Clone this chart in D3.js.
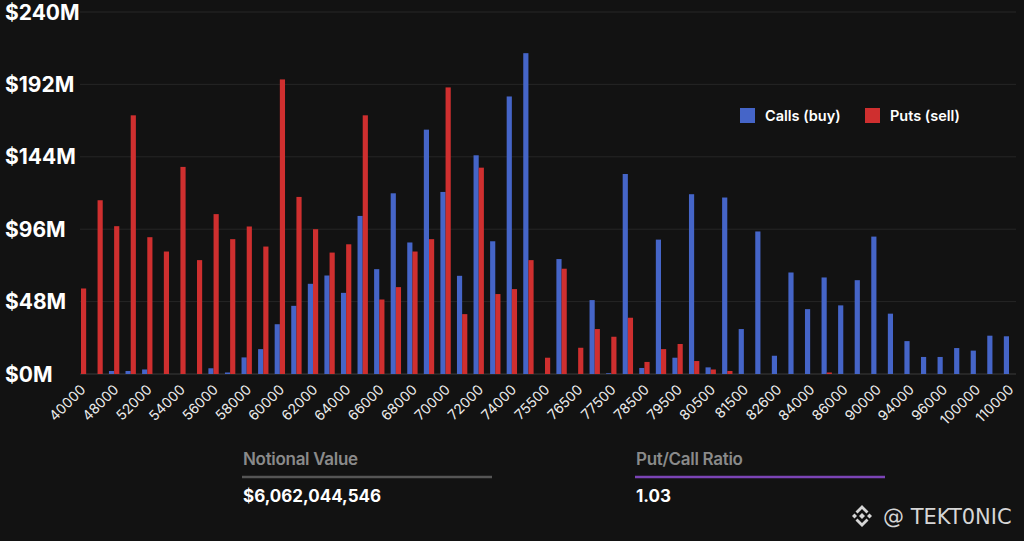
<!DOCTYPE html>
<html>
<head>
<meta charset="utf-8">
<script src="https://cdn.jsdelivr.net/npm/d3@7"></script>
<style>
  html, body { margin: 0; padding: 0; background: #121212; }
  svg { display: block; font-family: Inter, "Open Sans", sans-serif; }
</style>
</head>
<body>
<svg id="chart" width="1024" height="541"></svg>
<script>
// strike prices (every other one is labelled on the axis)
const strikes = [
  "40000", "44000", "48000", "50000", "52000", "53000", "54000", "55000", "56000", "57000",
  "58000", "59000", "60000", "61000", "62000", "63000", "64000", "65000", "66000", "67000",
  "68000", "69000", "70000", "71000", "72000", "73000", "74000", "75000", "75500", "76000",
  "76500", "77000", "77500", "78000", "78500", "79000", "79500", "80000", "80500", "81000",
  "81500", "82000", "82600", "83000", "84000", "85000", "86000", "88000", "90000", "92000",
  "94000", "95000", "96000", "98000", "100000", "105000", "110000"
];

// notional, $M
const calls = [
  0, 0, 2, 2, 3, 0, 0, 0, 3.8, 1,
  11, 16.5, 33, 45.2, 59.8, 65.3, 53.8, 104.8, 69.5, 119.8,
  87.2, 162, 120.7, 65.1, 145, 88, 184, 212.7, 0, 76.2,
  0, 49, 0.5, 132.6, 4, 89.1, 10.8, 119.2, 4.4, 117,
  29.8, 94.5, 12.1, 67.3, 43, 64, 45.5, 62.2, 91.1, 40,
  21.8, 11.3, 11.3, 17.2, 15.5, 25.4, 25
];
const puts = [
  56.7, 115.2, 98, 171.5, 90.7, 81.2, 137.3, 75.5, 106, 89.4,
  97.8, 84.5, 195.3, 117.4, 96, 80.5, 86, 171.5, 49.4, 57.6,
  81.2, 89.4, 190, 39.7, 136.8, 53, 56.3, 75.5, 10.8, 69.8,
  17.4, 29.8, 24.7, 37.3, 8, 16.5, 19.9, 8.6, 3, 2,
  0, 0, 0, 0, 0, 1, 0, 0, 0, 0,
  0, 0, 0, 0, 0, 0, 0
];

const yTicks = [0, 48, 96, 144, 192, 240];
const seriesKeys = ["calls", "puts"];
const seriesNames = ["Calls (buy)", "Puts (sell)"];
const seriesColors = ["#4565c8", "#cf2f2f"];

const notionalValue = "$6,062,044,546";
const putCallRatio = "1.03";

const rows = strikes.map((s, i) => ({ strike: s, calls: calls[i], puts: puts[i] }));

const svg = d3.select("#chart");

const x = d3.scaleBand()
  .domain(strikes)
  .range([72.7, 1017.3])
  .paddingInner(0);

const x1 = d3.scaleBand()
  .domain(seriesKeys)
  .range([0, x.bandwidth()])
  .paddingInner(0)
  .paddingOuter(0.6);

const y = d3.scaleLinear()
  .domain([0, 240])
  .range([374, 12]);

const color = d3.scaleOrdinal().domain(seriesKeys).range(seriesColors);

// gridlines
svg.append("g")
  .selectAll("line")
  .data(yTicks)
  .join("line")
  .attr("x1", 80)
  .attr("x2", 1016)
  .attr("y1", d => y(d))
  .attr("y2", d => y(d))
  .attr("stroke", d => d === 0 ? "#3a3a3a" : "#262626")
  .attr("stroke-width", 1);

// y labels
svg.append("g")
  .selectAll("text")
  .data(yTicks)
  .join("text")
  .attr("x", 5)
  .attr("y", d => y(d))
  .attr("dy", "0.36em")
  .attr("fill", "#ffffff")
  .attr("font-size", 21)
  .attr("font-weight", 700)
  .text(d => `$${d}M`);

// bars
svg.append("g")
  .selectAll("g")
  .data(rows)
  .join("g")
  .attr("transform", d => `translate(${x(d.strike)},0)`)
  .selectAll("rect")
  .data(d => seriesKeys.map(k => ({ key: k, value: d[k] })))
  .join("rect")
  .attr("x", d => x1(d.key))
  .attr("width", x1.bandwidth())
  .attr("y", d => y(d.value))
  .attr("height", d => y(0) - y(d.value))
  .attr("fill", d => color(d.key));

// x axis labels, every other strike
const xAxis = d3.axisBottom(x)
  .tickValues(strikes.filter((s, i) => i % 2 === 0))
  .tickSize(0)
  .tickPadding(0);

const xg = svg.append("g")
  .attr("transform", `translate(2,${y(0) + 13})`)
  .call(xAxis);
xg.select(".domain").remove();
xg.selectAll("text")
  .attr("fill", "#ececec")
  .attr("font-size", 14)
  .attr("font-family", "Inter, sans-serif")
  .attr("text-anchor", "end")
  .attr("dy", "0.35em")
  .attr("transform", "rotate(-45)");

// legend
const legend = svg.append("g").attr("transform", "translate(740,108)");
const legendX = [0, 125];
seriesKeys.forEach((k, i) => {
  const lg = legend.append("g").attr("transform", `translate(${legendX[i]},0)`);
  lg.append("rect").attr("width", 15).attr("height", 15).attr("fill", color(k));
  lg.append("text")
    .attr("x", 25)
    .attr("y", 8)
    .attr("dy", "0.35em")
    .attr("fill", "#ffffff")
    .attr("font-size", 14.5)
    .attr("font-weight", 600)
    .text(seriesNames[i]);
});

// stats below
const stats = [
  { label: "Notional Value", value: notionalValue, x: 243, line: "#555555" },
  { label: "Put/Call Ratio", value: putCallRatio, x: 636, line: "#7b44b6" }
];
const sg = svg.append("g")
  .selectAll("g")
  .data(stats)
  .join("g")
  .attr("transform", d => `translate(${d.x},0)`);
sg.append("text")
  .attr("y", 465)
  .attr("fill", "#8a8a8a")
  .attr("font-size", 17)
  .attr("font-weight", 600)
  .attr("letter-spacing", -0.3)
  .text(d => d.label);
sg.append("line")
  .attr("x1", -1)
  .attr("x2", 249)
  .attr("y1", 477)
  .attr("y2", 477)
  .attr("stroke", d => d.line)
  .attr("stroke-width", 2.5);
sg.append("text")
  .attr("y", 502)
  .attr("fill", "#ffffff")
  .attr("font-size", 17)
  .attr("font-weight", 700)
  .text(d => d.value);

// watermark
const wm = svg.append("g").attr("transform", "translate(862,516)").attr("fill", "#d6d6d6");
wm.append("path").attr("d", "M0,-3 L3,0 L0,3 L-3,0Z");
wm.append("path").attr("d", "M-10,0 L-7.5,-2.5 L-5,0 L-7.5,2.5Z");
wm.append("path").attr("d", "M10,0 L7.5,-2.5 L5,0 L7.5,2.5Z");
wm.append("path").attr("d", "M0,-11 L6.5,-4.5 L4.5,-2.5 L0,-7 L-4.5,-2.5 L-6.5,-4.5Z");
wm.append("path").attr("d", "M0,11 L6.5,4.5 L4.5,2.5 L0,7 L-4.5,2.5 L-6.5,4.5Z");
svg.append("text")
  .attr("x", 883)
  .attr("y", 524)
  .attr("fill", "#d6d6d6")
  .attr("font-size", 21)
  .attr("font-family", "'DejaVu Sans', sans-serif")
  .text("@ TEKT0NIC");
</script>
</body>
</html>
